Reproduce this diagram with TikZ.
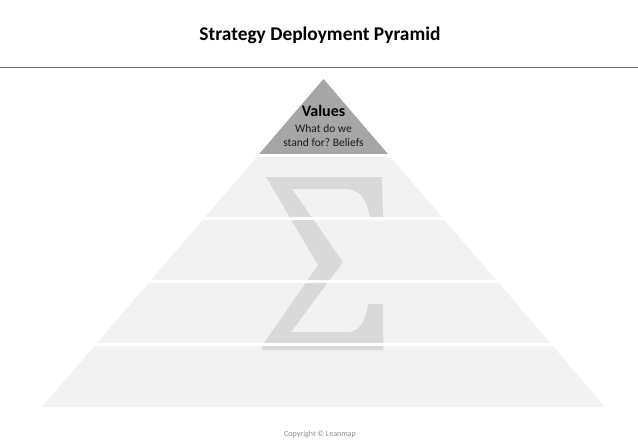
\documentclass[tikz,border=0pt]{standalone}
\usepackage{fontspec}
\setmainfont{Carlito}
\frenchspacing
\definecolor{layergray}{HTML}{F2F2F2}
\definecolor{topgray}{HTML}{A6A6A6}
\definecolor{sigmagray}{HTML}{D9D9D9}
\definecolor{rulegray}{HTML}{6E6E6E}
\definecolor{copygray}{HTML}{8C8C8C}
\definecolor{desctext}{HTML}{1A1A1A}
\tikzset{
  gapline/.style={draw=white, line width=2.4pt},
  txt/.style={inner sep=0pt, align=center, text=black},
}
\begin{document}
\begin{tikzpicture}[x=1pt, y=-1pt]
\useasboundingbox (0,0) rectangle (638,442);
% header
\node[txt, font=\bfseries\fontsize{19.4}{22}\selectfont] (title) at (320,35) {Strategy Deployment Pyramid};
\draw[rulegray, line width=1.5pt] (0,67.5) -- (638,67.5);
% pyramid
\coordinate (apex) at (323.5,79);
\coordinate (bl) at (42,407);
\coordinate (br) at (605,407);
\fill[layergray] (apex) -- (br) -- (bl) -- cycle;
\begin{scope}
  \clip (0,0) rectangle (638,154.5);
  \fill[topgray] (apex) -- (br) -- (bl) -- cycle;
\end{scope}
% sigma watermark
\fill[sigmagray] (266,177) -- (382,177) -- (383,217) -- (370,217)
  .. controls (366,198) and (360,189) .. (344,189) -- (292,189)
  -- (343,262) -- (291,332) -- (348,332)
  .. controls (360,332) and (366,320) .. (368,304)
  -- (383,304) -- (383,350) -- (262,350) -- (262,346)
  -- (318,265) -- cycle;
% separators
\foreach \yy in {155.5,218.5,281.5,344.5}
  \draw[gapline] (30,\yy) -- (620,\yy);
% texts
\node[txt, font=\bfseries\fontsize{16}{18}\selectfont] (values) at (323.5,111) {Values};
\node[txt, text=desctext, font=\fontsize{11.5}{14.5}\selectfont] (desc) at (323.5,135.5) {What do we\\stand for? Beliefs};
\node[txt, text=copygray, font=\fontsize{8}{9}\selectfont] (copy) at (320,434) {Copyright © Leanmap};
\end{tikzpicture}
\end{document}
